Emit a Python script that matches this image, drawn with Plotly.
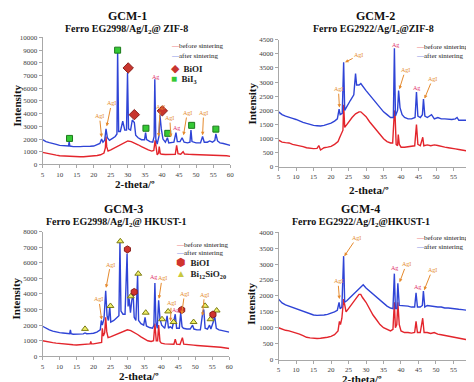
import plotly.graph_objects as go

# ---------------- DATA ----------------
# GCM-1  (Ferro EG2998/Ag/I2@ ZIF-8)
g1_before_x = [5, 6, 7, 8, 9, 10, 11, 12, 13, 14, 15, 16, 17, 18, 19, 20, 21, 22, 22.5, 23.0, 23.4, 23.6, 23.8, 24.2,
               25, 26, 27, 28, 29, 30, 31, 32, 33, 34, 35, 36, 37, 37.6, 38.0, 38.3, 38.6, 39.0, 39.2, 39.5,
               40, 41, 42, 43, 43.9, 44.3, 44.7, 45.5, 46.2, 46.6, 47, 48, 49, 50, 51, 52, 53, 54, 55, 56, 57, 58, 59, 60]
g1_before_y = [950, 880, 830, 760, 730, 690, 670, 640, 630, 610, 600, 605, 610, 625, 640, 665, 700, 760, 800, 900, 1300, 2200, 1400, 1050,
               1150, 1300, 1450, 1600, 1750, 1850, 1800, 1700, 1550, 1400, 1250, 1150, 1050, 1100, 1900, 1200, 750, 900, 1400, 850,
               800, 780, 770, 760, 800, 1500, 850, 800, 1000, 820, 800, 790, 785, 780, 770, 765, 760, 750, 740, 730, 720, 700, 680, 640]
g1_after_x = [5, 6, 7, 8, 9, 10, 11, 12, 12.6, 12.8, 13.0, 14, 15, 16, 17, 18, 19, 20, 21,
              21.8, 22.3, 22.7, 23.2, 23.6, 24.0, 24.6, 25.5, 26.3, 26.8, 27.0, 27.3, 27.8, 28.5, 29.1, 29.6, 29.9, 30.2, 30.8, 31.3, 31.6, 31.9, 32.3,
              33, 34, 34.9, 35.2, 35.5, 36.5, 37.3, 37.7, 37.9, 38.2, 38.6, 39.1, 39.4, 39.8, 40.3,
              41, 41.6, 42, 42.7, 43.5, 44.1, 44.5, 45.3, 45.9, 46.5, 47.5, 48.2, 48.5, 48.8,
              50, 51.3, 51.9, 52.4, 53.3, 54.0, 54.8, 55.5, 55.8, 56.3, 57, 58, 59, 60]
g1_after_y = [1950, 1800, 1720, 1620, 1580, 1500, 1470, 1440, 1450, 1800, 1450, 1400, 1380, 1400, 1420, 1400, 1430, 1450, 1550,
              1650, 2000, 1750, 1900, 2800, 2100, 1900, 2050, 2200, 2400, 9000, 2600, 2600, 3400, 2700, 2700, 7200, 2800, 2700, 3500, 3400, 3300, 2300,
              2100, 1950, 1950, 2500, 1950, 1800, 1750, 2200, 6700, 2000, 1600, 2200, 3900, 2800, 2000,
              1750, 2100, 1700, 1700, 1750, 2500, 1800, 1800, 2100, 1750, 1700, 1750, 2700, 1800,
              1700, 1700, 2200, 1750, 1750, 1850, 1750, 1900, 2400, 1850, 1700, 1650, 1600, 1500]
g1_bii3_x = [12.9, 27.0, 35.3, 41.7, 48.7, 55.8]
g1_bii3_y = [2050, 9000, 2850, 2450, 3080, 2780]
g1_bioi_x = [30.1, 31.9, 40.1]
g1_bioi_y = [7600, 3920, 4220]
g1_ag_x = [38.2, 44.3]
g1_ag_y = [6900, 2850]
g1_agi_text_x = [21.7, 25.2, 39.5, 42.3, 47.4, 52.2]
g1_agi_text_y = [3800, 4800, 4500, 3650, 4050, 4050]
g1_agi_peak_x = [22.3, 23.8, 39.0, 42.6, 46.3, 51.9]
g1_agi_peak_y = [2150, 3000, 2200, 2150, 2300, 2300]

# GCM-2  (Ferro EG2922/Ag/I2@ZIF-8)
g2_before_x = [5, 6, 7, 8, 9, 10, 11, 12, 13, 14, 15, 16, 16.5, 17, 17.5, 18, 19, 20, 21, 22, 22.5, 23.0, 23.4, 23.6, 23.9, 24.5,
               25, 26, 27, 28, 28.5, 29, 30, 31, 32, 33, 34, 35, 36, 37, 37.6, 38.1, 38.3, 38.6, 39.0, 39.2, 39.5,
               40, 41, 42, 43, 43.9, 44.4, 44.8, 45.5, 46.2, 46.5, 47.5, 48.5, 49.5, 50.5, 51.5, 52.5, 53.5, 54.5, 55.5, 56.5, 57.5, 58.5, 59.5, 60]
g2_before_y = [950, 880, 860, 850, 800, 780, 750, 720, 680, 660, 650, 660, 760, 600, 640, 680, 700, 730, 800, 900, 1050, 1200, 1300, 2200, 1400, 1500,
               1600, 1750, 1880, 1950, 1950, 1900, 1780, 1600, 1450, 1300, 1150, 1000, 900, 850, 850, 2000, 1800, 800, 750, 1150, 800,
               700, 700, 720, 720, 750, 1500, 800, 750, 1050, 750, 780, 750, 780, 760, 720, 700, 680, 650, 640, 620, 600, 580, 560, 540]
g2_after_x = [5, 6, 7, 8, 9, 10, 11, 12, 13, 14, 15, 16, 17, 18, 19, 20, 21,
              21.8, 22.3, 22.6, 23.2, 23.6, 23.9, 24.5, 25.5, 26.5, 27.0, 27.3, 28, 28.5, 29,
              30, 31, 32, 33, 34, 35, 36, 37, 37.8, 38.1, 38.4, 39.0, 39.3, 39.7, 40.3, 41, 42, 43,
              44.0, 44.4, 44.8, 45.5, 46.1, 46.4, 46.8, 47.5, 48.7, 49.5, 50.5, 51.5, 52.5, 53.5, 54.5, 55.5, 56, 56.5, 57.5, 58.5, 59.3, 60]
g2_after_y = [1950, 1850, 1800, 1750, 1720, 1680, 1620, 1580, 1540, 1500, 1470, 1460, 1450, 1470, 1500, 1550, 1620,
              1700, 2050, 1850, 1900, 3700, 2000, 2150, 2350, 2550, 3300, 2900, 2900, 2950, 2850,
              2700, 2550, 2400, 2250, 2100, 1950, 1850, 1750, 1750, 4200, 1800, 2000, 2700, 2100, 1850, 1750, 1700, 1700,
              1750, 2650, 1800, 1750, 1850, 2400, 1800, 1750, 1850, 1700, 1750, 1700, 1700, 1680, 1680, 1700, 1750, 1650, 1650, 1650, 1620, 1620]
g2_ag_x = [38.3, 44.4]
g2_ag_y = [4330, 2800]
g2_agi_text_x = [22.1, 27.9, 41.2, 49.0]
g2_agi_text_y = [2750, 3950, 3420, 3110]
g2_agi_peak_x = [22.4, 24.0, 39.5, 46.7]
g2_agi_peak_y = [2100, 3700, 2750, 2420]

# GCM-3  (Ferro EG2998/Ag/I2@ HKUST-1)
g3_before_x = [5, 6, 7, 8, 9, 10, 11, 12, 13, 14, 15, 16, 17, 18, 19, 19.2, 19.4, 20, 21, 22,
               22.4, 22.6, 22.9, 23.3, 23.6, 23.9, 24.3, 25, 26, 27, 28, 29, 30, 31, 32, 33, 34, 35, 36, 37,
               37.7, 38.1, 38.5, 38.9, 39.2, 39.6, 40, 41, 42, 43, 43.7, 44.1, 44.5, 45.5, 46.2, 46.6,
               47.5, 48.5, 49.5, 50.5, 51.5, 52.5, 53.5, 54.5, 55.5, 56.5, 57.5, 58.5, 59.5, 60]
g3_before_y = [1000, 950, 900, 880, 850, 820, 800, 780, 760, 740, 730, 740, 760, 780, 800, 950, 800, 800, 830, 860,
               900, 1800, 1300, 1500, 2500, 1600, 1200, 1250, 1350, 1450, 1550, 1650, 1700, 1650, 1550, 1400, 1250, 1100, 1000, 950,
               1000, 2100, 1000, 1000, 2000, 950, 850, 800, 780, 760, 780, 1100, 780, 760, 1200, 780,
               750, 730, 720, 700, 690, 680, 660, 640, 620, 600, 580, 560, 530, 500]
g3_after_x = [5, 6, 7, 8, 9, 10, 11, 12, 13.0, 13.2, 13.4, 14, 15, 16, 17, 17.5, 18, 19, 20, 21, 22,
              22.3, 22.6, 23.1, 23.6, 24.0, 24.4, 24.8, 25.1, 26, 27,
              27.5, 27.8, 28.1, 28.7, 29.3, 29.9, 30.2, 30.5, 30.9, 31.3, 31.7, 32.0, 32.5, 33.0, 33.3, 34,
              34.8, 35.2, 35.6, 36.5, 37.4, 37.8, 38.1, 38.4, 38.8, 39.2, 39.6, 40.1,
              41, 41.7, 42.1, 42.6, 43.2, 44.1, 44.5, 45.3, 45.7, 46.1, 46.5, 47.5, 48.5, 49.2, 49.6, 50.5, 51.5,
              52.2, 52.5, 52.9, 53.6, 54.2, 54.6, 55.3, 55.7, 56.2, 57, 58, 59, 60]
g3_after_y = [1930, 1800, 1700, 1620, 1560, 1520, 1500, 1480, 1450, 1700, 1450, 1420, 1420, 1430, 1440, 1500, 1450, 1460, 1480, 1550, 1700,
              2300, 2000, 2400, 4200, 2600, 2300, 3200, 2200, 2300, 2500,
              2600, 7300, 2900, 2700, 2700, 6600, 3200, 3700, 2800, 3600, 4000, 2500, 2300, 5200, 2300, 2100,
              2000, 2500, 1950, 1850, 1800, 2000, 4700, 2200, 1800, 3600, 2400, 2000,
              1800, 2600, 1800, 1900, 1800, 2700, 1800, 1800, 2800, 1900, 1800, 1750, 1750, 2000, 1750, 1700, 1700,
              2800, 3000, 1800, 1750, 2000, 1750, 2200, 2600, 1800, 1700, 1650, 1600, 1550]
g3_bisio_x = [17.5, 25.0, 27.9, 31.0, 33.2, 35.4, 40.2, 42.0, 43.6, 49.5, 52.9, 54.5, 56.3]
g3_bisio_y = [1760, 3230, 7380, 3850, 5300, 2800, 2380, 2880, 2200, 2200, 3240, 2380, 2940]
g3_bioi_x = [30.0, 32.0, 46.0, 55.2]
g3_bioi_y = [6860, 4130, 2980, 2680]
g3_ag_x = [37.6, 44.2]
g3_ag_y = [5080, 3000]
g3_agi_text_x = [21.6, 25.0, 40.2, 42.9, 46.8, 52.7]
g3_agi_text_y = [3650, 5880, 5000, 3400, 4000, 3950]
g3_agi_peak_x = [22.4, 23.7, 39.3, 42.7, 46.0, 52.1]
g3_agi_peak_y = [2350, 4400, 3700, 2250, 2700, 2600]

# GCM-4  (Ferro EG2922/Ag/I2@HKUST-1)
g4_before_x = [5, 6, 7, 8, 9, 10, 11, 12, 13, 14, 15, 16, 17, 18, 19, 20, 21, 22, 22.4, 22.7, 23.1, 23.6, 23.9, 24.3,
               25, 26, 27, 28, 28.5, 29, 30, 31, 32, 33, 34, 35, 36, 37, 37.7, 38.1, 38.4, 38.8, 39.1, 39.5,
               40, 41, 42, 43, 43.9, 44.3, 44.7, 45.5, 46.2, 46.6, 47.5, 48.5, 49.5, 50.5, 51.5, 52.5, 53.5, 54.5, 55.5, 56.5, 57.5, 58.5, 59.5, 60]
g4_before_y = [1000, 950, 920, 900, 870, 850, 800, 750, 700, 680, 660, 660, 670, 680, 700, 730, 780, 900, 1200, 1100, 1300, 1900, 1700, 1500,
               1600, 1750, 1900, 2050, 2050, 1950, 1800, 1600, 1400, 1250, 1100, 1000, 950, 900, 950, 1800, 1000, 1100, 1800, 1100,
               900, 850, 850, 830, 850, 1200, 850, 850, 1300, 850, 850, 820, 850, 800, 780, 760, 750, 720, 700, 680, 650, 630, 600, 580]
g4_after_x = [5, 6, 7, 8, 9, 10, 11, 12, 13, 14, 15, 16, 17, 18, 19, 20, 21,
              21.8, 22.3, 22.6, 23.1, 23.6, 23.9, 24.5, 25.5, 26.5, 27.5, 28.5, 29.2,
              30, 31, 32, 33, 34, 35, 36, 37, 37.7, 38.1, 38.4, 38.8, 39.1, 39.5, 40.2, 41, 42, 43,
              43.9, 44.3, 44.7, 45.5, 46.1, 46.4, 46.8, 47.5, 48.5, 49.5, 50.5, 51.5, 52.5, 53.5, 54.5, 55.5, 56.5, 57.5, 58.5, 59.5, 60]
g4_after_y = [1900, 1780, 1720, 1680, 1640, 1600, 1550, 1500, 1460, 1420, 1400, 1390, 1390, 1400, 1420, 1450, 1500,
              1550, 1800, 1600, 1650, 3250, 1800, 1850, 1950, 2050, 2150, 2250, 2350,
              2250, 2150, 2050, 1950, 1850, 1750, 1680, 1620, 1600, 2700, 1600, 1600, 2400, 1700, 1700, 1680, 1680, 1650,
              1650, 2100, 1650, 1650, 1700, 2150, 1650, 1700, 1680, 1680, 1650, 1650, 1620, 1620, 1600, 1600, 1580, 1570, 1560, 1540, 1530]
g4_ag_x = [38.2, 44.6]
g4_ag_y = [2870, 2280]
g4_agi_text_x = [22.0, 27.3, 41.5, 48.9]
g4_agi_text_y = [2460, 3820, 2990, 2810]
g4_agi_peak_x = [22.4, 23.8, 39.6, 46.6]
g4_agi_peak_y = [1900, 3250, 2430, 2180]

x_ticks = [5, 10, 15, 20, 25, 30, 35, 40, 45, 50, 55, 60]

# ---------------- STYLE ----------------
SERIF = "Liberation Serif, Times New Roman, serif"
RED = "#E3252C"
BLUE = "#2F44D6"
AG_COL = "#E0306A"
AGI_COL = "#E58A2E"
AXIS_COL = "#A8A8A8"

fig = go.Figure()
annotations = []

panels = [
    dict(ax="1", dom_x=[0.0696, 0.4705], dom_y=[0.5924, 0.9319], ymax=10000, dtick=1000,
         bx=g1_before_x, by=g1_before_y, ax_x=g1_after_x, ax_y=g1_after_y,
         ag=(g1_ag_x, g1_ag_y), agi=(g1_agi_text_x, g1_agi_text_y, g1_agi_peak_x, g1_agi_peak_y)),
    dict(ax="2", dom_x=[0.5738, 0.9852], dom_y=[0.5856, 0.9259], ymax=4500, dtick=500,
         bx=g2_before_x, by=g2_before_y, ax_x=g2_after_x, ax_y=g2_after_y,
         ag=(g2_ag_x, g2_ag_y), agi=(g2_agi_text_x, g2_agi_text_y, g2_agi_peak_x, g2_agi_peak_y)),
    dict(ax="3", dom_x=[0.0696, 0.4684], dom_y=[0.0793, 0.4128], ymax=8000, dtick=1000,
         bx=g3_before_x, by=g3_before_y, ax_x=g3_after_x, ax_y=g3_after_y,
         ag=(g3_ag_x, g3_ag_y), agi=(g3_agi_text_x, g3_agi_text_y, g3_agi_peak_x, g3_agi_peak_y)),
    dict(ax="4", dom_x=[0.5738, 0.9850], dom_y=[0.0707, 0.4110], ymax=4000, dtick=500,
         bx=g4_before_x, by=g4_before_y, ax_x=g4_after_x, ax_y=g4_after_y,
         ag=(g4_ag_x, g4_ag_y), agi=(g4_agi_text_x, g4_agi_text_y, g4_agi_peak_x, g4_agi_peak_y)),
]

layout_axes = {}
for p in panels:
    n = p["ax"]
    xa = "x" if n == "1" else "x" + n
    ya = "y" if n == "1" else "y" + n
    xkey = "xaxis" if n == "1" else "xaxis" + n
    ykey = "yaxis" if n == "1" else "yaxis" + n
    fig.add_trace(go.Scatter(x=p["bx"], y=p["by"], mode="lines", name="before sintering",
                             line=dict(color=RED, width=1.4), xaxis=xa, yaxis=ya, showlegend=False))
    fig.add_trace(go.Scatter(x=p["ax_x"], y=p["ax_y"], mode="lines", name="after sintering",
                             line=dict(color=BLUE, width=1.4), xaxis=xa, yaxis=ya, showlegend=False))
    tick_font = dict(family=SERIF, size=7, color="#404040")
    layout_axes[xkey] = dict(domain=p["dom_x"], anchor=ya, range=[5, 60], tickvals=x_ticks,
                             showline=True, linecolor=AXIS_COL, linewidth=1, ticks="outside", ticklen=3,
                             tickcolor=AXIS_COL, showgrid=False, zeroline=False, tickfont=tick_font)
    layout_axes[ykey] = dict(domain=p["dom_y"], anchor=xa, range=[0, p["ymax"]], dtick=p["dtick"], tick0=0,
                             tickformat="d", showline=True, linecolor=AXIS_COL, linewidth=1, ticks="outside",
                             ticklen=3, tickcolor=AXIS_COL, showgrid=False, zeroline=False, tickfont=tick_font)
    # Ag labels
    for x, y in zip(*p["ag"]):
        annotations.append(dict(x=x, y=y, xref=xa, yref=ya, text="Ag", showarrow=False,
                                xanchor="center", yanchor="middle",
                                font=dict(family=SERIF, size=6, color=AG_COL)))
    # AgI labels with arrows
    tx, ty, hx, hy = p["agi"]
    for a, b, c, d in zip(tx, ty, hx, hy):
        annotations.append(dict(x=c, y=d, ax=a, ay=b, xref=xa, yref=ya, axref=xa, ayref=ya,
                                text="AgI", showarrow=True, arrowhead=2, arrowsize=0.7, arrowwidth=1,
                                arrowcolor=AGI_COL, font=dict(family=SERIF, size=6, color=AGI_COL)))

# phase markers
fig.add_trace(go.Scatter(x=g1_bii3_x, y=g1_bii3_y, mode="markers", name="BiI3", xaxis="x", yaxis="y",
                         marker=dict(symbol="square", size=6, color="#35C935", line=dict(color="#1C7A1C", width=1)),
                         showlegend=False))
fig.add_trace(go.Scatter(x=g1_bioi_x, y=g1_bioi_y, mode="markers", name="BiOI", xaxis="x", yaxis="y",
                         marker=dict(symbol="diamond", size=8, color="#C8352E", line=dict(color="#8A1E1A", width=1)),
                         showlegend=False))
fig.add_trace(go.Scatter(x=g3_bisio_x, y=g3_bisio_y, mode="markers", name="Bi12SiO20", xaxis="x3", yaxis="y3",
                         marker=dict(symbol="triangle-up", size=6, color="#F0F06A", line=dict(color="#7A7A10", width=1)),
                         showlegend=False))
fig.add_trace(go.Scatter(x=g3_bioi_x, y=g3_bioi_y, mode="markers", name="BiOI", xaxis="x3", yaxis="y3",
                         marker=dict(symbol="hexagon", size=7, color="#D0342E", line=dict(color="#8A1E1A", width=1)),
                         showlegend=False))

# titles
def ptext(x, y, text, size, **kw):
    d = dict(x=x, y=y, xref="paper", yref="paper", text=text, showarrow=False,
             xanchor="center", yanchor="middle",
             font=dict(family=SERIF, size=size, color="#111111"))
    d.update(kw)
    annotations.append(d)

ptext(0.251, 0.9880, "<b>GCM-1</b>", 12)
ptext(0.249, 0.9545, "<b>Ferro EG2998/Ag/I<sub>2</sub>@ ZIF-8</b>", 10)
ptext(0.7806, 0.9880, "<b>GCM-2</b>", 12)
ptext(0.7764, 0.9545, "<b>Ferro EG2922/Ag/I<sub>2</sub>@ZIF-8</b>", 10)
ptext(0.2426, 0.4720, "<b>GCM-3</b>", 12)
ptext(0.2278, 0.4362, "<b>Ferro EG2998/Ag/I<sub>2</sub>@ HKUST-1</b>", 10)
ptext(0.749, 0.4720, "<b>GCM-4</b>", 12)
ptext(0.749, 0.4370, "<b>Ferro EG2922/Ag/I<sub>2</sub>@HKUST-1</b>", 10)

# axis titles
for x, y in [(0.268, 0.540), (0.768, 0.5243), (0.276, 0.027), (0.753, 0.020)]:
    ptext(x, y, "<b>2-theta/º</b>", 11)
for x, y in [(0.0158, 0.751), (0.5175, 0.7557), (0.0127, 0.2338), (0.5154, 0.2207)]:
    ptext(x, y, "<b>Intensity</b>", 11, textangle=-90)

# legends
def leg(x, y, html, size=7):
    annotations.append(dict(x=x, y=y, xref="paper", yref="paper", xanchor="left", yanchor="middle",
                            text=html, showarrow=False, font=dict(family=SERIF, size=size, color="#222222")))

red_line = "<span style='color:%s'>—</span>before sintering" % RED
blue_line = "<span style='color:%s'>—</span>after sintering" % BLUE
for x, ys in [(0.3397, (0.9084, 0.8822)), (0.8629, (0.9065, 0.8822)),
              (0.3502, (0.3777, 0.3568)), (0.8629, (0.3953, 0.3709))]:
    leg(x, ys[0], red_line)
    leg(x, ys[1], blue_line)
leg(0.3397, 0.8508, "<span style='color:#C8352E;font-size:11px'>◆</span>  <b>BiOI</b>", 9)
leg(0.3397, 0.8220, "<span style='color:#35C935;font-size:10px'>■</span>  <b>BiI<sub>3</sub></b>", 9)
leg(0.3502, 0.3310, "<span style='color:#D0342E;font-size:11px'>⬢</span>  <b>BiOI</b>", 9)
leg(0.3502, 0.3000, "<span style='color:#C8C840;font-size:10px'>▲</span>  <b>Bi<sub>12</sub>SiO<sub>20</sub></b>", 9)

fig.update_layout(width=474, height=382, margin=dict(l=0, r=0, t=0, b=0),
                  paper_bgcolor="white", plot_bgcolor="white", showlegend=False,
                  annotations=annotations, **layout_axes)

fig.write_html("out.html")
